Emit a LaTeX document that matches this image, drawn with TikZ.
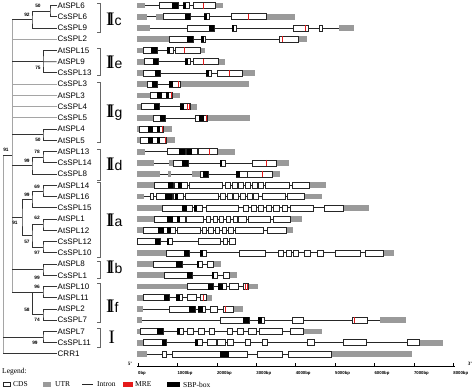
\documentclass[tikz,border=0pt]{standalone}
\usepackage{fontspec}
\setmainfont{Liberation Serif}
\setsansfont{Liberation Sans}

\definecolor{utrgrey}{HTML}{9A9A9A}
\definecolor{branchgrey}{HTML}{A5A5A5}
\definecolor{mrered}{HTML}{E41A1A}

\tikzset{
  leaf/.style={anchor=west, inner sep=0pt, inner xsep=1pt, font=\sffamily\fontsize{8}{8}\selectfont},
  branch/.style={draw=black!80, line width=0.9pt},
  weakbranch/.style={draw=branchgrey, line width=0.9pt},
  boot/.style={inner sep=0pt, font=\sffamily\bfseries\fontsize{4.8}{5}\selectfont},
  bracket/.style={draw=black!60, line width=0.8pt},
  clade/.style={anchor=west, inner sep=0pt},
  intron/.style={draw=black!85, line width=0.7pt},
  cds/.style={draw=black!85, fill=white, line width=0.5pt},
  utr/.style={fill=utrgrey},
  sbp/.style={fill=black},
  mre/.style={draw=mrered, line width=0.9pt},
  legtext/.style={anchor=west, inner sep=0pt, font=\fontsize{7.5}{8}\selectfont},
  scalelab/.style={anchor=west, inner sep=0pt, font=\sffamily\bfseries\fontsize{4.3}{5}\selectfont},
}

% clade label: roman II followed by a letter
\newcommand{\cladeII}[1]{{\fontsize{19}{19}\selectfont I\kern-0.22em I}{\sffamily\fontsize{14}{14}\selectfont #1}}

% one gene structure: y, end, UTR list, CDS list, SBP list
\newcommand{\generow}[5]{%
  \draw[intron] (137,#1) -- (#2,#1);
  \foreach \ua/\ub in {#3} {\fill[utr] (\ua,#1-2.9) rectangle (\ub,#1+2.9);}
  \foreach \ua/\ub in {#4} {\draw[cds] (\ua,#1-3) rectangle (\ub,#1+3);}
  \foreach \ua/\ub in {#5} {\fill[sbp] (\ua,#1-3) rectangle (\ub,#1+3);}
}

\begin{document}
\begin{tikzpicture}[x=1pt,y=-1pt]
  \useasboundingbox (0,0) rectangle (474,388);

  % leaves
  \foreach \g [count=\i] in {AtSPL6,CsSPL6,CsSPL9,CsSPL2,AtSPL15,AtSPL9,CsSPL13,
      CsSPL3,AtSPL3,CsSPL4,CsSPL5,AtSPL4,AtSPL5,AtSPL13,CsSPL14,CsSPL8,
      AtSPL14,AtSPL16,CsSPL15,AtSPL1,AtSPL12,CsSPL12,CsSPL10,AtSPL8,CsSPL1,
      AtSPL10,AtSPL11,AtSPL2,CsSPL7,AtSPL7,CsSPL11,CRR1}
    \node[leaf] (\g) at (56.5,{5.5+(\i-1)*11.24}) {\g};

  % inner nodes of the tree
  \coordinate (c1) at (50,11.12);
  \coordinate (c2) at (32,19.55);
  \coordinate (cE) at (43,61.7);
  \coordinate (cG) at (43,134.76);
  \coordinate (cD1) at (43,157.24);
  \coordinate (cD) at (32,165.67);
  \coordinate (cA1a) at (43,190.96);
  \coordinate (cA1) at (32,199.39);
  \coordinate (cA2a) at (43,224.68);
  \coordinate (cA2b) at (43,247.16);
  \coordinate (cA2) at (32,235.92);
  \coordinate (cA) at (22,217.66);
  \coordinate (cB) at (43,269.64);
  \coordinate (cF1) at (43,292.12);
  \coordinate (cF2) at (43,314.6);
  \coordinate (cF) at (32,292.12);
  \coordinate (cI) at (43,337.08);
  \coordinate (aTop) at (12,19.55);
  \coordinate (aBot) at (12,292.12);
  \coordinate (rTop) at (3,155);
  \coordinate (rBot) at (3,353.94);

  % branches
  \draw[weakbranch] (aTop) -- (aBot);
  \draw[weakbranch] (rTop) -- (rBot);
  \foreach \n in {CsSPL2,CsSPL3,AtSPL3,CsSPL4,CsSPL5}
    \draw[weakbranch] (\n.west -| aTop) -- (\n.west);
  \foreach \n in {c2,cE,cG,cD,cA,cB,cF}
    \draw[branch] (\n -| aTop) -- (\n);
  \draw[branch] (AtSPL6.west) -| (c1) |- (CsSPL6.west);
  \draw[branch] (c1) -| (c2) |- (CsSPL9.west);
  \draw[branch] (AtSPL15.west) -| (cE) |- (CsSPL13.west);
  \draw[branch] (AtSPL9.west) -- (cE);
  \draw[branch] (AtSPL4.west) -| (cG) |- (AtSPL5.west);
  \draw[branch] (AtSPL13.west) -| (cD1) |- (CsSPL14.west);
  \draw[branch] (cD1) -| (cD) |- (CsSPL8.west);
  \draw[branch] (AtSPL14.west) -| (cA1a) |- (AtSPL16.west);
  \draw[branch] (cA1a) -| (cA1) |- (CsSPL15.west);
  \draw[branch] (AtSPL1.west) -| (cA2a) |- (AtSPL12.west);
  \draw[branch] (CsSPL12.west) -| (cA2b) |- (CsSPL10.west);
  \draw[branch] (cA2a) -| (cA2) |- (cA2b);
  \draw[branch] (cA1) -| (cA) |- (cA2);
  \draw[branch] (AtSPL8.west) -| (cB) |- (CsSPL1.west);
  \draw[branch] (AtSPL10.west) -| (cF1) |- (AtSPL11.west);
  \draw[branch] (AtSPL2.west) -| (cF2) |- (CsSPL7.west);
  \draw[branch] (cF1) -| (cF) |- (cF2);
  \draw[branch] (AtSPL7.west) -| (cI) |- (CsSPL11.west);
  \draw[branch] (rTop) -- (rTop -| aTop);
  \draw[branch] (cI -| rTop) -- (cI);
  \draw[branch] (CRR1.west -| rTop) -- (CRR1.west);

  % bootstrap values
  \foreach \bx/\by/\bv [count=\k] in {38/6/50, 27/15/92, 38/68/75, 38/140/50,
      37/152/78, 27/161/99, 6/150/91, 37/187/69, 27/195/99, 15/223/91,
      37/218/62, 27/242/57, 37/253/97, 37/278/99, 37/287/96, 27/310/58,
      37/320/74, 35/343/99}
    \node[boot] (bs\k) at (\bx,\by) {\bv};

  % clade brackets
  \foreach \bt/\bb in {3/32, 48/75, 82/142, 149/180, 182/257, 261/278, 283/322, 328/347}
    \draw[bracket] (97,\bt) -- (100,\bt) -- (100,\bb) -- (97,\bb);
  \node[clade] (IIc) at (106,19.5) {\cladeII{c}};
  \node[clade] (IIe) at (106,62.5) {\cladeII{e}};
  \node[clade] (IIg) at (106,112.5) {\cladeII{g}};
  \node[clade] (IId) at (106,164) {\cladeII{d}};
  \node[clade] (IIa) at (106,220) {\cladeII{a}};
  \node[clade] (IIb) at (106,267) {\cladeII{b}};
  \node[clade] (IIf) at (106,306) {\cladeII{f}};
  \node[clade] (cladeI) at (108.5,337.5) {\fontsize{19}{19}\selectfont I};

  % gene structures
  \generow{5.5}{223}{137/145,215/223}{159/178,183/189,193/215}{172/178,183/186}
  \generow{16.74}{295}{137/147,156/163,266/295}{163/190,204/209,231/266}{185/190,204/207}
  \generow{27.98}{354}{137/150,339/354}{187/214,232/236,293/308,319/322}{209/214,232/234}
  \generow{39.22}{307}{137/169,298/307}{169/193,201/205,279/298}{187/193,201/204}
  \generow{50.46}{205}{137/143,200/205}{143/157,167/173,175/200}{151/157,167/170}
  \generow{61.7}{225}{137/144,218/225}{144/158,185/190,193/218}{153/158,185/188}
  \generow{72.94}{255}{137/143,242/255}{143/160,206/211,217/242}{155/160,206/209}
  \generow{84.18}{249}{137/147,180/249}{147/157,169/180}{152/157,169/173}
  \generow{95.42}{180}{137/150,172/180}{150/172}{157/162,166/169}
  \generow{106.66}{197}{137/141,190/197}{141/159,180/190}{154/159,180/184}
  \generow{117.9}{250}{137/153,207/250}{153/165,195/207}{160/165,199/204}
  \generow{129.14}{172}{137/139,163/172}{139/163}{148/153,157/160}
  \generow{140.38}{175}{137/140,166/175}{140/166}{148/153,157/160}
  \generow{151.62}{235}{137/145,217/235}{167/185,186/197,198/217}{179/185,187/192}
  \generow{162.86}{289}{137/154,169/173,276/289}{173/188,220/225,252/276}{182/188,220/222}
  \generow{174.1}{280}{137/160,168/171,192/200,272/280}{200/208,236/247,247/272}{203/208,236/240}
  \generow{185.34}{326}{137/154,309/326}{154/173,174/187,189/222,225/230,232/237,238/243,
    245/250,252/257,258/263,265/289,292/309}{168/173,178/182}
  \generow{196.58}{322}{137/144,304/322}{150/153,156/172,173/183,185/218,220/225,227/232,
    233/238,240/245,247/252,253/258,262/285,287/304}{165/172,175/178}
  \generow{207.82}{369}{137/162,343/369}{162/192,194/202,206/238,243/248,251/256,258/263,
    266/271,273/279,282/287,290/313,324/343}{182/187,194/197}
  \generow{219.06}{302}{137/154,290/302}{154/177,177/185,186/203,206/210,213/217,219/223,
    226/230,233/237,238/246,248/270,273/290}{167/173,177/180}
  \generow{230.3}{293}{137/143,286/293}{143/167,167/175,177/200,202/206,208/213,215/219,
    222/226,228/233,235/263,267/286}{158/164,167/171}
  \generow{241.54}{235}{137/137}{137/160,167/172,198/220,223/227,229/235}{155/160,167/169}
  \generow{252.78}{394}{137/166,383/394}{166/189,200/206,239/265,278/283,286/291,293/298,
    304/310,317/323,335/360,365/383}{184/189,200/203}
  \generow{264.02}{221}{137/153,213/221}{153/182,197/202,207/213}{176/182,197/199}
  \generow{275.26}{237}{137/164,229/237}{164/192,212/217,223/229}{187/192,212/214}
  \generow{286.5}{258}{137/187,248/258}{187/213,218/226,229/238,243/248}{208/213,218/223}
  \generow{297.74}{212}{137/143,206/212}{143/169,176/182,187/196,200/206}{164/169,176/180}
  \generow{308.98}{243}{137/143,233/243}{169/195,198/205,210/217,223/233}{189/195,198/203}
  \generow{320.22}{406}{137/142,380/406}{220/249,258/264,292/303,352/367}{243/249,258/262}
  \generow{331.46}{322}{137/140,303/322}{140/163,177/183,187/193,198/204,209/214,227/232,
    237/243,248/256,259/282,290/303}{157/163,177/180}
  \generow{342.7}{443}{137/143,419/443}{143/166,195/202,207/216,217/225,227/233,245/250,
    262/267,307/314,343/366,407/419}{162/166,195/198}
  \generow{353.94}{412}{137/147,331/412}{162/166,172/247,257/282,288/331}{220/229}

  % MRE sites
  \foreach \ry/\rx in {5.5/203, 16.74/248, 27.98/305, 39.22/282, 50.46/184, 61.7/203,
      72.94/229, 84.18/178, 95.42/171, 106.66/187, 106.66/189.5, 117.9/206,
      129.14/162, 140.38/165, 151.62/209, 162.86/266, 174.1/262, 286.5/245,
      286.5/247, 297.74/203, 308.98/225, 320.22/354}
    \draw[mre] (\rx,\ry-3) -- (\rx,\ry+3);

  % scale
  \draw[line width=0.6pt] (137,366) -- (455,366);
  \foreach \k/\t in {0/0bp,1/1000bp,2/2000bp,3/3000bp,4/4000bp,5/5000bp,6/6000bp,7/7000bp,8/8000bp} {
    \draw[line width=0.5pt] (138+39.4*\k,366) -- ++(0,-3);
    \node[scalelab] (sl\k) at (138+39.4*\k,373) {\t};
  }
  \node[inner sep=0pt, font=\bfseries\fontsize{5}{5}\selectfont] (five) at (130,364) {5'};
  \node[inner sep=0pt, font=\bfseries\fontsize{5}{5}\selectfont] (three) at (470,364) {3'};

  % legend
  \node[legtext] (legend) at (2,372) {Legend:};
  \draw[cds] (3,382) rectangle (10,386.5);
  \node[legtext] (lcds) at (13,384.5) {CDS};
  \fill[utr] (43,382) rectangle (51,386.5);
  \node[legtext] (lutr) at (55,384.5) {UTR};
  \draw[intron, line width=0.9pt] (82,384) -- (93,384);
  \node[legtext] (lintron) at (97,384.5) {Intron};
  \fill[mrered] (123,382) rectangle (133,386.5);
  \node[legtext] (lmre) at (135,384.5) {MRE};
  \fill[sbp] (167,382) rectangle (180,386.5);
  \node[legtext] (lsbp) at (183,384.5) {SBP-box};
\end{tikzpicture}
\end{document}
